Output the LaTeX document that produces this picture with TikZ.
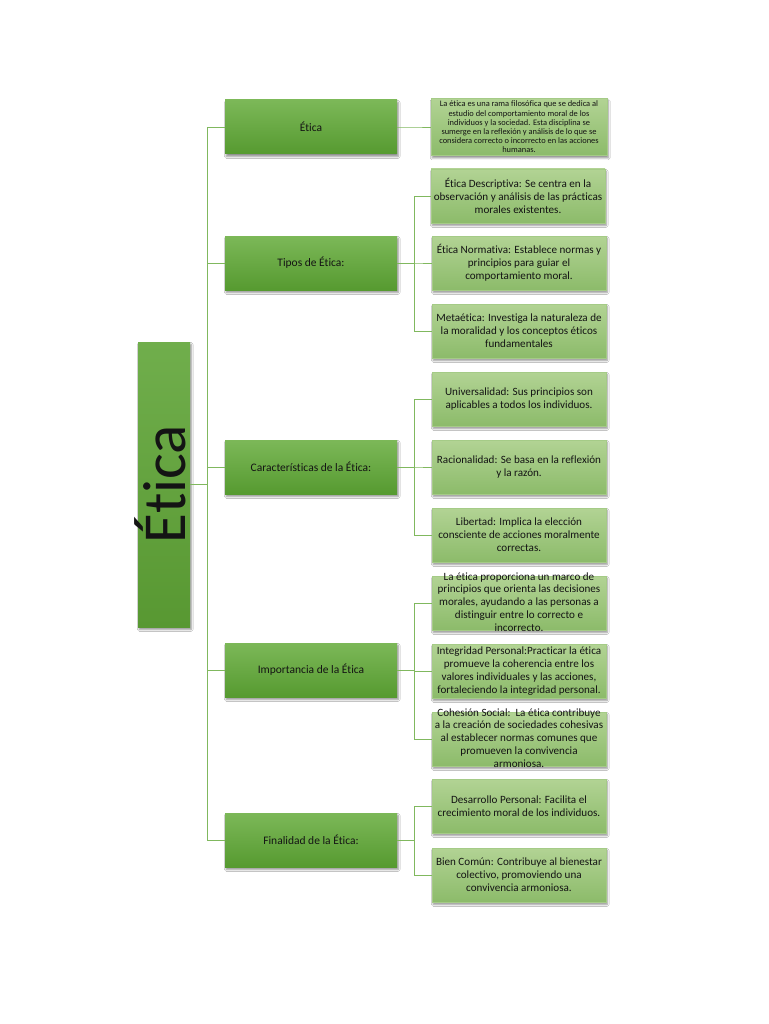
\documentclass[tikz,border=0pt]{standalone}
\usepackage{fontspec}
\setmainfont{Carlito}[Ligatures={NoCommon}]
\usetikzlibrary{shadows.blur,calc}
\definecolor{rootTop}{RGB}{112,174,76}
\definecolor{rootBot}{RGB}{88,152,50}
\definecolor{midTop}{RGB}{124,184,88}
\definecolor{midBot}{RGB}{86,154,48}
\definecolor{leafTop}{RGB}{178,211,148}
\definecolor{leafBot}{RGB}{140,187,106}
\definecolor{leafLine}{RGB}{165,203,135}
\definecolor{connC}{RGB}{128,184,94}
\definecolor{txt}{RGB}{20,20,20}
\tikzset{
  shadowed/.style={blur shadow={shadow blur steps=6, shadow xshift=1.2pt, shadow yshift=-2.4pt, shadow opacity=45}},
  rootbox/.style={shadowed, top color=rootTop, bottom color=rootBot, minimum width=52pt, minimum height=285pt, inner sep=0pt},
  roottext/.style={rotate=90, text=txt, font=\fontsize{61}{64}\selectfont, inner sep=0pt},
  midbox/.style={shadowed, top color=midTop, bottom color=midBot, minimum width=172pt, minimum height=54pt, inner sep=0pt, text=txt, font=\fontsize{11.5}{13}\selectfont},
  leafbox/.style={shadowed, top color=leafTop, bottom color=leafBot, draw=leafLine, line width=0.5pt, minimum width=174pt, minimum height=54pt, inner sep=0pt},
  leaftext/.style={text=txt, align=center, inner sep=0pt, font=\fontsize{11.1}{12.9}\selectfont},
  tinytext/.style={text=txt, align=center, inner sep=0pt, font=\fontsize{8.4}{9.2}\selectfont},
  conn/.style={draw=connC, line width=0.9pt}
}
\begin{document}
\begin{tikzpicture}[x=1pt,y=-1pt]
\useasboundingbox (0,0) rectangle (768,1024);
\fill[white] (0,0) rectangle (768,1024);

% root
\node[rootbox] (root) at (164,484.5) {};
\node[roottext] (roottxt) at (160,484) {Ética};

% level 1
\node[midbox] (a) at (311,127) {Ética};
\node[midbox] (b) at (311,263) {Tipos de Ética:};
\node[midbox] (c) at (311,467) {Características de la Ética:};
\node[midbox] (d) at (311,670) {Importancia de la Ética};
\node[midbox] (e) at (311,840) {Finalidad de la Ética:};

% leaves
\node[leafbox, minimum width=176pt, minimum height=57pt] (a1) at (519,127) {};
\node[tinytext] (a1t) at (a1) {La ética es una rama filosófica que se dedica al\\estudio del comportamiento moral de los\\individuos y la sociedad. Esta disciplina se\\sumerge en la reflexión y análisis de lo que se\\considera correcto o incorrecto en las acciones\\humanas.};

\node[leafbox] (b1) at (518,196) {};
\node[leaftext] (b1t) at (b1) {Ética Descriptiva: Se centra en la\\observación y análisis de las prácticas\\morales existentes.};
\node[leafbox] (b2) at (519,263) {};
\node[leaftext] (b2t) at (b2) {Ética Normativa: Establece normas y\\principios para guiar el\\comportamiento moral.};
\node[leafbox] (b3) at (519,331) {};
\node[leaftext] (b3t) at (b3) {Metaética: Investiga la naturaleza de\\la moralidad y los conceptos éticos\\fundamentales};

\node[leafbox] (c1) at (519,399) {};
\node[leaftext] (c1t) at (c1) {Universalidad: Sus principios son\\aplicables a todos los individuos.};
\node[leafbox] (c2) at (519,467) {};
\node[leaftext] (c2t) at (c2) {Racionalidad: Se basa en la reflexión\\y la razón.};
\node[leafbox] (c3) at (519,535) {};
\node[leaftext] (c3t) at (c3) {Libertad: Implica la elección\\consciente de acciones moralmente\\correctas.};

\node[leafbox] (d1) at (519,603) {};
\node[leaftext] (d1t) at (519,602) {La ética proporciona un marco de\\principios que orienta las decisiones\\morales, ayudando a las personas a\\distinguir entre lo correcto e\\incorrecto.};
\node[leafbox] (d2) at (519,671) {};
\node[leaftext] (d2t) at (d2) {Integridad Personal:Practicar la ética\\promueve la coherencia entre los\\valores individuales y las acciones,\\fortaleciendo la integridad personal.};
\node[leafbox] (d3) at (519,739) {};
\node[leaftext] (d3t) at (519,738) {Cohesión Social:\ \ La ética contribuye\\a la creación de sociedades cohesivas\\al establecer normas comunes que\\promueven la convivencia\\armoniosa.};

\node[leafbox] (e1) at (519,806) {};
\node[leaftext] (e1t) at (e1) {Desarrollo Personal: Facilita el\\crecimiento moral de los individuos.};
\node[leafbox] (e2) at (519,875) {};
\node[leaftext] (e2t) at (e2) {Bien Común: Contribuye al bienestar\\colectivo, promoviendo una\\convivencia armoniosa.};

% trunk connectors
\foreach \n in {a,b,c,d,e}
  \draw[conn] (root.east) -- ($(root.east)!0.5!(root.east -| \n.west)$) |- (\n.west);

% branch connectors
\foreach \p/\k in {a/a1,b/b1,b/b2,b/b3,c/c1,c/c2,c/c3,d/d1,d/d2,d/d3,e/e1,e/e2}
  \draw[conn] (\p.east) -- ($(\p.east)!0.5!(\p.east -| \k.west)$) |- (\k.west);
\end{tikzpicture}
\end{document}
